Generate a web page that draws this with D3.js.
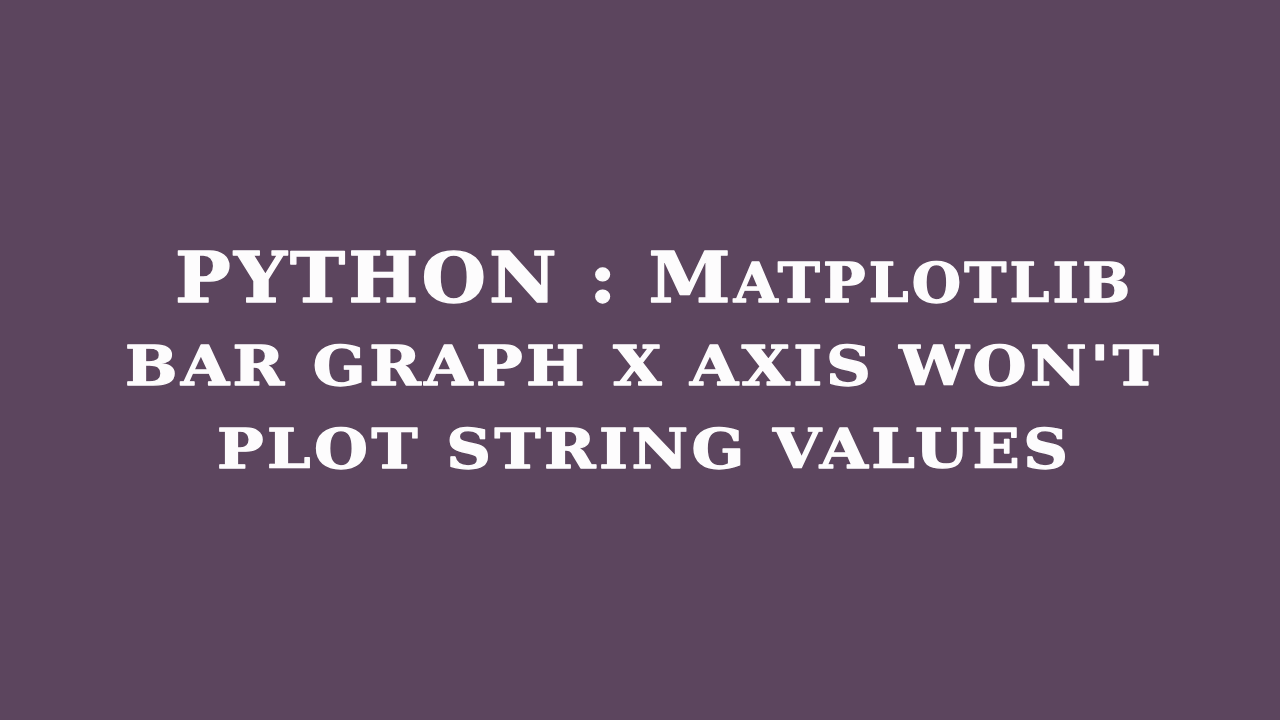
<!DOCTYPE html>
<html>
<head>
<meta charset="utf-8">
<script src="https://cdn.jsdelivr.net/npm/d3@7"></script>
<style>
  html, body { margin: 0; padding: 0; background: #5c455e; }
  svg { display: block; }
</style>
</head>
<body>
<svg id="card"></svg>
<script>
var width = 1280;
var height = 720;

// title text, split in lines; big = full capital, small = small caps
var lineTexts = ["PYTHON : Matplotlib", "bar graph x axis won't", "plot string values"];
var bigCapitals = ["PYTHON : M", "", ""];

// layout (left edge, right edge, baseline)
var lineLeft = [175, 125, 217];
var lineRight = [1130, 1159, 1068];
var lineBase = [302, 385, 468];

var capRatio = 0.729;   // DejaVu Serif cap height / em
var bigCap = 51;
var smallCap = 39;
var spacing = 3;        // letter spacing, the reference face is set loose

var svg = d3.select("#card").attr("width", width).attr("height", height);
svg.append("rect").attr("width", width).attr("height", height).attr("fill", "#5c455e");

var y = d3.scaleOrdinal().domain(d3.range(lineTexts.length)).range(lineBase);

lineTexts.forEach(function(t, i){
  var big = bigCapitals[i];
  var rest = t.slice(big.length).toUpperCase();
  var g = svg.append("g");
  var txt = g.append("text")
    .attr("x", 0)
    .attr("y", y(i))
    .attr("fill", "#fdfcfd")
    .attr("stroke", "#fdfcfd")
    .attr("stroke-width", 1.3)
    .attr("stroke-linejoin", "round")
    .attr("letter-spacing", spacing)
    .attr("font-family", "'DejaVu Serif', serif")
    .attr("font-weight", "bold");
  if (big.length) {
    txt.append("tspan").attr("font-size", bigCap / capRatio).text(big);
  }
  txt.append("tspan").attr("font-size", smallCap / capRatio).text(rest);

  // stretch the line to the width it has in the picture
  var box = txt.node().getBBox();
  var w = box.width - spacing;
  var sx = (lineRight[i] - lineLeft[i]) / w;
  g.attr("transform", "translate(" + (lineLeft[i] - box.x * sx) + ",0) scale(" + sx + ",1)");
});
</script>
</body>
</html>
